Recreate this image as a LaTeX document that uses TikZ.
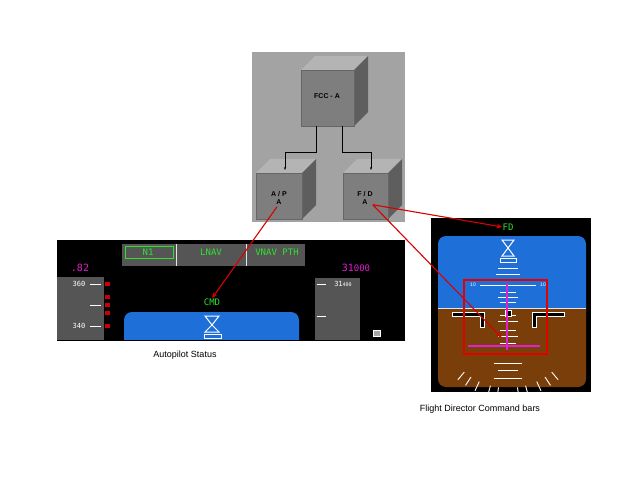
\documentclass[tikz,border=0pt]{standalone}
\usepackage{fontspec}
\setmainfont{Liberation Sans}
\newfontfamily\monof{DejaVu Sans Mono}
\usetikzlibrary{arrows.meta,calc}
\definecolor{panel}{HTML}{A3A3A3}
\definecolor{cfront}{HTML}{7E7E7E}
\definecolor{ctop}{HTML}{B4B4B4}
\definecolor{cside}{HTML}{5E5E5E}
\definecolor{sky}{HTML}{1F6FD8}
\definecolor{ground}{HTML}{7A3E0A}
\definecolor{magen}{HTML}{E020D0}
\definecolor{grn}{HTML}{30E030}
\definecolor{tape}{HTML}{555555}
\tikzset{
 lbl/.style={font=\bfseries\scriptsize, align=center, inner sep=0pt},
 redarrow/.style={draw=red!85!black, line width=1.1pt, -{Stealth[length=6pt]}},
 wire/.style={draw=black, line width=0.5pt, -{Stealth[length=3pt]}},
 gtxt/.style={font=\monof\small, text=grn, inner sep=0pt},
 wtxt/.style={font=\monof\scriptsize, text=white, inner sep=0pt},
 tick/.style={draw=white, line width=0.9pt},
}
\newcommand{\cube}[5]{% name, x, y, w, h
 \fill[ctop] (#2,#3) -- ++(14,-14) -- ++(#4,0) -- ++(-14,14) -- cycle;
 \fill[cside] (#2+#4,#3) -- ++(14,-14) -- ++(0,#5) -- ++(-14,14) -- cycle;
 \draw[black!60,fill=cfront] (#2,#3) rectangle ++(#4,#5);
 \node[inner sep=0pt, minimum width=#4pt, minimum height=#5pt, anchor=north west] (#1) at (#2,#3) {};
}
\begin{document}
\begin{tikzpicture}[x=1pt,y=-1pt]
\useasboundingbox (0,0) rectangle (638,479);
\fill[white] (0,0) rectangle (638,479);
% gray panel
\fill[panel] (252,52) rectangle (405,222);
\cube{fcc}{301}{70}{53}{56}
\cube{ap}{256}{173}{46}{46}
\cube{fd}{343}{173}{45}{46}
\node[lbl] (fcctxt) at (327,96) {FCC - A};
\node[lbl] (aptxt) at (279,198) {A / P\\A};
\node[lbl] (fdtxt) at (365,198) {F / D\\A};
\coordinate (w1) at (316,126);
\coordinate (w2) at (342,126);
\draw[wire] (w1) -- (316,152) -- (285,152) -- (285,170);
\draw[wire] (w2) -- (342,152) -- (371,152) -- (371,170);
% left PFD
\fill[black] (57,240) rectangle (405,340);
\fill[tape] (122,244) rectangle (305,266);
\draw[white!80!gray, line width=1pt] (176,244) -- (176,266) (246,244) -- (246,266);
\draw[grn] (125,246) rectangle (173,258);
\node[gtxt] (n1) at (148,252) {N1};
\node[gtxt] (lnav) at (211,252) {LNAV};
\node[gtxt] (vnav) at (277,252) {VNAV PTH};
\node[font=\monof\normalsize, text=magen, inner sep=0pt] (mach) at (80,268) {.82};
\node[font=\monof\normalsize, text=magen, inner sep=0pt] (alt) at (356,268) {31{\small 000}};
\fill[tape] (57,277) rectangle (104,340);
\fill[tape] (315,278) rectangle (360,340);
\node[wtxt] (s360) at (79,284) {360};
\node[wtxt] (s340) at (79,326) {340};
\draw[tick] (90,284) -- (101,284) (90,305) -- (101,305) (90,326) -- (101,326);
\foreach \yy in {284,297,305,313,326} \fill[red!80!black] (105,\yy-2) rectangle (110,\yy+2);
\draw[tick] (317,284) -- (326,284) (317,316) -- (326,316);
\node[wtxt, font=\monof\scriptsize] (a314) at (343,284) {31{\tiny 400}};
\fill[sky, rounded corners=8pt] (124,312) rectangle (299,350);
\fill[black] (57,340) rectangle (405,352);
\fill[white] (0,340.5) rectangle (638,352);
\node[gtxt] (cmd) at (212,302) {CMD};
\draw[white, line width=1pt] (205,316) -- (219,316) -- (212,325) -- (205,332) -- (219,332) -- (212,325) -- cycle;
\draw[white, line width=1pt] (204,334) rectangle (221,338);
\foreach \a in {-35,-25,-15,-8,8,15,25,35}
 \draw[tick] ($(212,390)+(90+\a:60)$) -- ($(212,390)+(90+\a:70)$);
\draw[white,fill=white!30!gray] (373,330) rectangle (380,336);
\node[font=\small, inner sep=0pt] (l1) at (185,355) {Autopilot Status};
% right ADI
\fill[black] (431,218) rectangle (591,392);
\fill[sky, rounded corners=8pt] (438,236) rectangle (586,320);
\fill[ground, rounded corners=8pt] (438,300) rectangle (586,387);
\fill[sky] (438,300) rectangle (586,308);
\draw[white!80!gray, line width=1pt] (438,308) -- (586,308);
\node[gtxt] (fdl) at (508,227) {FD};
\draw[white, line width=1pt] (502,240) -- (514,240) -- (508,248) -- (502,256) -- (514,256) -- (508,248) -- cycle;
\draw[white, line width=1pt] (500,258) rectangle (516,262);
\foreach \a in {-40,-33,-25,-15,-8,8,15,25,33,40}
 \draw[tick] ($(508,320)+(90+\a:68)$) -- ($(508,320)+(90+\a:78)$);
\foreach \yy/\w in {268/10,274/12,292/8,297/10,302/8,315/8,321/10,330/8,336/10,343/8,363/14,370/10,378/14}
 \draw[tick] (508-\w,\yy) -- (508+\w,\yy);
\draw[tick] (480,285) -- (536,285);
\node[font=\tiny, text=white] (t10a) at (473,285) {10};
\node[font=\tiny, text=white] (t10b) at (543,285) {10};
\draw[white, fill=black, line width=0.8pt] (452,312) -- (484,312) -- (484,327) -- (480,327) -- (480,316) -- (452,316) -- cycle;
\draw[white, fill=black, line width=0.8pt] (564,312) -- (532,312) -- (532,327) -- (536,327) -- (536,316) -- (564,316) -- cycle;
\draw[white, fill=black, line width=0.8pt] (505,310) rectangle (511,316);
\draw[red!90!black, line width=1.3pt] (464,280) rectangle (547,354);
\draw[magen, line width=1.6pt] (507,283) -- (507,350) (468,346) -- (540,346);
\node[font=\small, inner sep=0pt] (l2) at (480,409) {Flight Director Command bars};
% red arrows
\draw[redarrow] (aptxt.south) ++(-2,2) -- (cmd.north);
\draw[redarrow] (fdtxt.south east) -- (fdl.west);
\draw[redarrow] (fdtxt.south east) -- (502,338);
\end{tikzpicture}
\end{document}
